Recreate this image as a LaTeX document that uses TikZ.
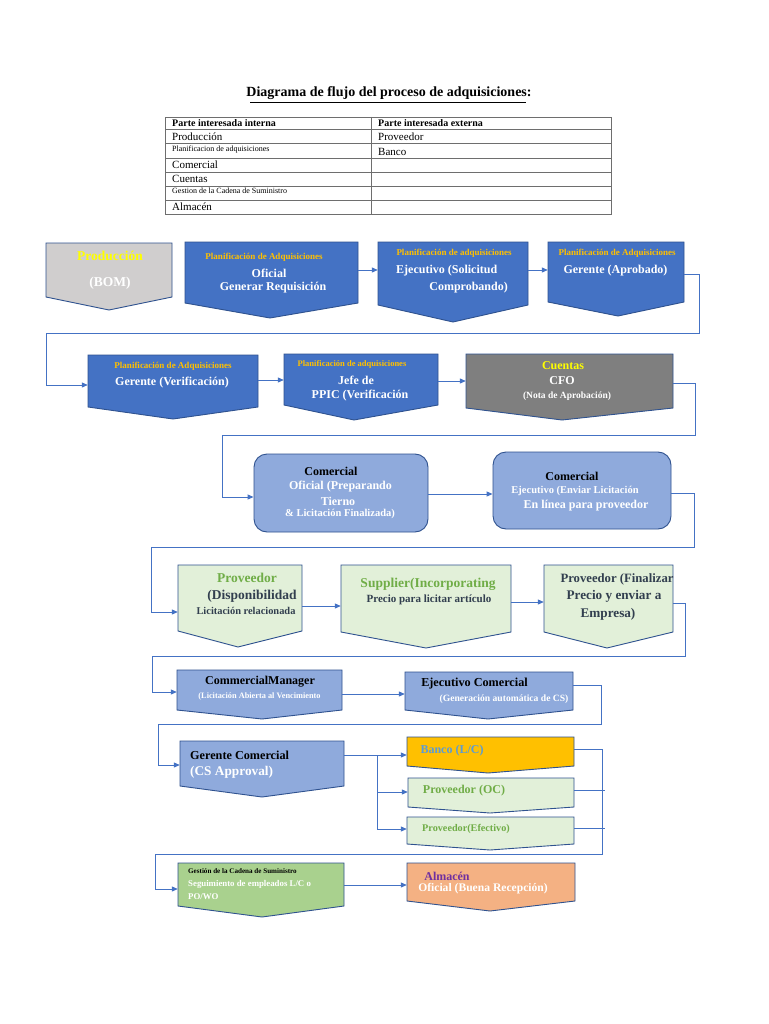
\documentclass[tikz,border=0pt]{standalone}
\usepackage{fontspec}
\setmainfont{Liberation Serif}
\usetikzlibrary{arrows.meta,fit}
\definecolor{bfill}{HTML}{4472C4}
\definecolor{bline}{HTML}{2F528F}
\definecolor{lbfill}{HTML}{8FAADC}
\definecolor{gfill}{HTML}{D0CECE}
\definecolor{dfill}{HTML}{7F7F7F}
\definecolor{gnfill}{HTML}{E2F0D9}
\definecolor{gold}{HTML}{FFC000}
\definecolor{yel}{HTML}{FFFF00}
\definecolor{gtext}{HTML}{70AD47}
\definecolor{btext}{HTML}{5B9BD5}
\definecolor{grfill}{HTML}{A9D18E}
\definecolor{afill}{HTML}{F4B183}
\definecolor{ptext}{HTML}{7030A0}
\definecolor{ntext}{HTML}{323F4F}
\definecolor{tline}{HTML}{6E6E6E}
\newcommand\fs[1]{\fontsize{#1}{#1}\selectfont}
\newcommand\pent[8]{%
  \draw[#8] (#2,#3) -- (#4,#3) -- (#4,#5) -- (#6,#7) -- (#2,#5) -- cycle;
  \node[fit={(#2,#3) (#4,#5)},inner sep=0pt] (#1) {};}
\tikzset{
  shp/.style={draw=bline,line width=0.9pt},
  bbox/.style={shp,fill=bfill},
  lbbox/.style={shp,fill=lbfill},
  gbox/.style={shp,fill=gfill},
  dbox/.style={shp,fill=dfill},
  gnbox/.style={shp,fill=gnfill},
  obox/.style={shp,fill=gold},
  grbox/.style={shp,fill=grfill},
  abox/.style={shp,fill=afill},
  rbox/.style={shp,fill=lbfill,rounded corners=13pt},
  conn/.style={draw=bfill,line width=1pt,-{Triangle[length=6pt,width=5pt]}},
  cline/.style={draw=bfill,line width=1pt},
  tx/.style={inner sep=0pt,font=\bfseries},
  tl/.style={tx,anchor=west},
  tbl/.style={draw=tline,line width=0.8pt},
}
\begin{document}
\begin{tikzpicture}[x=1pt,y=-1pt]
\useasboundingbox (0,0) rectangle (768,1024);
\fill[white] (0,0) rectangle (768,1024);
% Title
\node[inner sep=0pt,font=\fs{14}\bfseries] (title) at (389,93) {Diagrama de flujo del proceso de adquisiciones:};
\draw[line width=1.3pt] (250,102.5) -- (526,102.5);
% Table
\draw[tbl] (165,117) rectangle (611,214.5);
\foreach \yy in {129.5,143.5,158,172,186,200} {\draw[tbl] (165,\yy) -- (611,\yy);}
\draw[tbl] (371,117) -- (371,214.5);
\node[tl,font=\fs{10}\bfseries] (h1) at (172,123) {Parte interesada interna};
\node[tl,font=\fs{10}\bfseries] (h2) at (378,123) {Parte interesada externa};
\node[tl,font=\fs{11}] (c1) at (172,137) {Producción};
\node[tl,font=\fs{11}] (c2) at (378,137) {Proveedor};
\node[tl,font=\fs{8}] (c3) at (172,150) {Planificacion de adquisiciones};
\node[tl,font=\fs{11}] (c4) at (378,152) {Banco};
\node[tl,font=\fs{11}] (c5) at (172,165) {Comercial};
\node[tl,font=\fs{11}] (c6) at (172,179) {Cuentas};
\node[tl,font=\fs{8}] (c7) at (172,190.5) {Gestion de la Cadena de Suministro};
\node[tl,font=\fs{11}] (c8) at (172,207) {Almacén};
% Row 1
\pent{prod}{46}{243}{172}{297}{109}{310}{gbox}
\pent{ofi}{185}{242}{358}{303}{270}{318}{bbox}
\pent{eje}{378}{242}{528}{305}{453}{322}{bbox}
\pent{ger}{548}{242}{684}{302}{618}{316}{bbox}
\node[tx,font=\fs{13.5}\bfseries,text=yel] (t1) at (110,256) {Producción};
\node[tx,font=\fs{13.5}\bfseries,text=white] (t2) at (110,283) {(BOM)};
\node[tx,font=\fs{9}\bfseries,text=gold] (t3) at (264,257) {Planificación de Adquisiciones};
\node[tx,font=\fs{12}\bfseries,text=white] (t4) at (269,273) {Oficial};
\node[tx,font=\fs{12}\bfseries,text=white] (t5) at (273,288) {Generar Requisición};
\node[tx,font=\fs{9}\bfseries,text=gold] (t6) at (454,253) {Planificación de adquisiciones};
\node[tl,font=\fs{12}\bfseries,text=white] (t7) at (396,271) {Ejecutivo (Solicitud};
\node[tx,anchor=east,font=\fs{12}\bfseries,text=white] (t8) at (508,288) {Comprobando)};
\node[tx,font=\fs{9}\bfseries,text=gold] (t9) at (617,253) {Planificación de Adquisiciones};
\node[tx,font=\fs{12}\bfseries,text=white] (t10) at (615.5,271) {Gerente (Aprobado)};
% Row 2
\pent{gerv}{88}{355}{258}{407}{173}{419}{bbox}
\pent{jefe}{284}{354}{438}{405}{354}{420}{bbox}
\pent{cfo}{466}{354}{673}{408}{562}{420}{dbox}
\node[tx,font=\fs{9}\bfseries,text=gold] (t11) at (173,366) {Planificación de Adquisiciones};
\node[tx,font=\fs{12}\bfseries,text=white] (t12) at (172,383) {Gerente (Verificación)};
\node[tx,font=\fs{8.5}\bfseries,text=gold] (t13) at (352,364) {Planificación de adquisiciones};
\node[tx,font=\fs{12}\bfseries,text=white] (t14) at (356,380) {Jefe de};
\node[tx,font=\fs{12}\bfseries,text=white] (t15) at (360,396) {PPIC (Verificación};
\node[tx,font=\fs{12}\bfseries,text=yel] (t16) at (563,366) {Cuentas};
\node[tx,font=\fs{12}\bfseries,text=white] (t17) at (562,381) {CFO};
\node[tx,font=\fs{9.5}\bfseries,text=white] (t18) at (567,396) {(Nota de Aprobación)};
% Row 3
\node[rbox,minimum width=174pt,minimum height=78pt] (com1) at (341,493) {};
\node[rbox,minimum width=178pt,minimum height=77pt] (com2) at (582,490.5) {};
\node[tx,font=\fs{12}\bfseries] (t19) at (331,471) {Comercial};
\node[tx,font=\fs{12}\bfseries,text=white] (t20) at (340.5,487) {Oficial (Preparando};
\node[tx,font=\fs{12}\bfseries,text=white] (t21) at (338,501) {Tierno};
\node[tx,font=\fs{10.5}\bfseries,text=white] (t22) at (340,514) {\& Licitación Finalizada)};
\node[tx,font=\fs{12}\bfseries] (t23) at (572,476) {Comercial};
\node[tx,font=\fs{10.5}\bfseries,text=white] (t24) at (575,491) {Ejecutivo (Enviar Licitación};
\node[tx,font=\fs{12}\bfseries,text=white] (t25) at (586,506) {En línea para proveedor};
% Row 4
\pent{prov}{178}{565}{302}{631}{238}{647}{gnbox}
\pent{sup}{341}{565}{511}{632}{426}{648}{gnbox}
\pent{fin}{544}{565}{673}{632}{607}{648}{gnbox}
\node[tx,font=\fs{13.5}\bfseries,text=gtext] (t26) at (247,578) {Proveedor};
\node[tx,font=\fs{13.5}\bfseries,text=ntext] (t27) at (252,596) {(Disponibilidad};
\node[tx,font=\fs{10.4}\bfseries,text=ntext] (t28) at (246,611) {Licitación relacionada};
\node[tx,font=\fs{13.5}\bfseries,text=gtext] (t29) at (428,584) {Supplier(Incorporating};
\node[tx,font=\fs{11}\bfseries,text=ntext] (t30) at (429,600) {Precio para licitar artículo};
\node[tx,font=\fs{12.7}\bfseries,text=ntext] (t31) at (617,579) {Proveedor (Finalizar};
\node[tx,font=\fs{13.2}\bfseries,text=ntext] (t32) at (614,596) {Precio y enviar a};
\node[tx,font=\fs{13.2}\bfseries,text=ntext] (t33) at (608,614) {Empresa)};
% Row 5
\pent{cm}{177}{670}{342}{710}{262}{719}{lbbox}
\pent{ec}{405}{672}{573}{710}{488}{719}{lbbox}
\node[tx,font=\fs{12}\bfseries] (t34) at (260,682) {CommercialManager};
\node[tx,font=\fs{8.3}\bfseries,text=white] (t35) at (259.5,696) {(Licitación Abierta al Vencimiento};
\node[tx,font=\fs{12.2}\bfseries] (t36) at (474.5,684) {Ejecutivo Comercial};
\node[tx,font=\fs{9.6}\bfseries,text=white] (t37) at (504,699) {(Generación automática de CS)};
% Row 6
\pent{gc}{180}{741}{344}{786}{262}{797}{lbbox}
\pent{banco}{407}{737}{574}{766}{488}{773}{obox}
\pent{poc}{408}{778}{574}{807}{490}{813}{gnbox}
\pent{pef}{407}{817}{574}{844}{490}{850}{gnbox}
\node[tl,font=\fs{12.2}\bfseries] (t38) at (190,755) {Gerente Comercial};
\node[tl,font=\fs{13.3}\bfseries,text=white] (t39) at (190,772) {(CS Approval)};
\node[tx,font=\fs{12}\bfseries,text=btext] (t40) at (452,750.5) {Banco (L/C)};
\node[tx,font=\fs{12}\bfseries,text=gtext] (t41) at (464,791) {Proveedor (OC)};
\node[tx,font=\fs{10.2}\bfseries,text=gtext] (t42) at (466,828.5) {Proveedor(Efectivo)};
% Row 7
\pent{gest}{178}{863}{344}{906}{262}{917}{grbox}
\pent{alm}{407}{863}{575}{901}{490}{911}{abox}
\node[tl,font=\fs{7.1}\bfseries] (t43) at (188,871) {Gestión de la Cadena de Suministro};
\node[tl,font=\fs{8.8}\bfseries,text=white] (t44) at (188,884.5) {Seguimiento de empleados L/C o};
\node[tl,font=\fs{8.8}\bfseries,text=white] (t45) at (188,896.5) {PO/WO};
\node[tx,font=\fs{12}\bfseries,text=ptext] (t46) at (447,876) {Almacén};
\node[tx,font=\fs{11.6}\bfseries,text=white] (t47) at (483,889) {Oficial (Buena Recepción)};
% Connectors
\draw[conn] (ofi.east|-0,270) -- (eje.west|-0,270);
\draw[conn] (eje.east|-0,270) -- (ger.west|-0,270);
\draw[conn] (ger.east|-0,274) -- (699,274) |- (46,333) |- (gerv.west|-0,385);
\draw[conn] (gerv.east|-0,380) -- (jefe.west|-0,380);
\draw[conn] (jefe.east|-0,381) -- (cfo.west|-0,381);
\draw[conn] (cfo.east|-0,383) -- (695,383) |- (222,435) |- (com1.west|-0,497);
\draw[conn] (com1.east|-0,494) -- (com2.west|-0,494);
\draw[conn] (com2.east|-0,493) -- (694,493) |- (151,547) |- (prov.west|-0,612);
\draw[conn] (prov.east|-0,606) -- (sup.west|-0,606);
\draw[conn] (sup.east|-0,602) -- (fin.west|-0,602);
\draw[conn] (fin.east|-0,603) -- (685,603) |- (152,656) |- (cm.west|-0,692);
\draw[conn] (cm.east|-0,694) -- (ec.west|-0,694);
\draw[conn] (ec.east|-0,685) -- (601,685) |- (158,724) |- (gc.west|-0,765);
\coordinate (br) at (377,755);
\draw[conn] (gc.east|-0,755) -- (banco.west|-0,755);
\draw[conn] (br) |- (poc.west|-0,792);
\draw[conn] (br) |- (pef.west|-0,829);
\draw[conn] (banco.east|-0,749) -- (602,749) |- (155,854) |- (gest.west|-0,889);
\draw[cline] (poc.east|-0,790) -- (605,790);
\draw[cline] (pef.east|-0,828) -- (605,828);
\draw[conn] (gest.east|-0,885) -- (alm.west|-0,885);
\end{tikzpicture}
\end{document}
